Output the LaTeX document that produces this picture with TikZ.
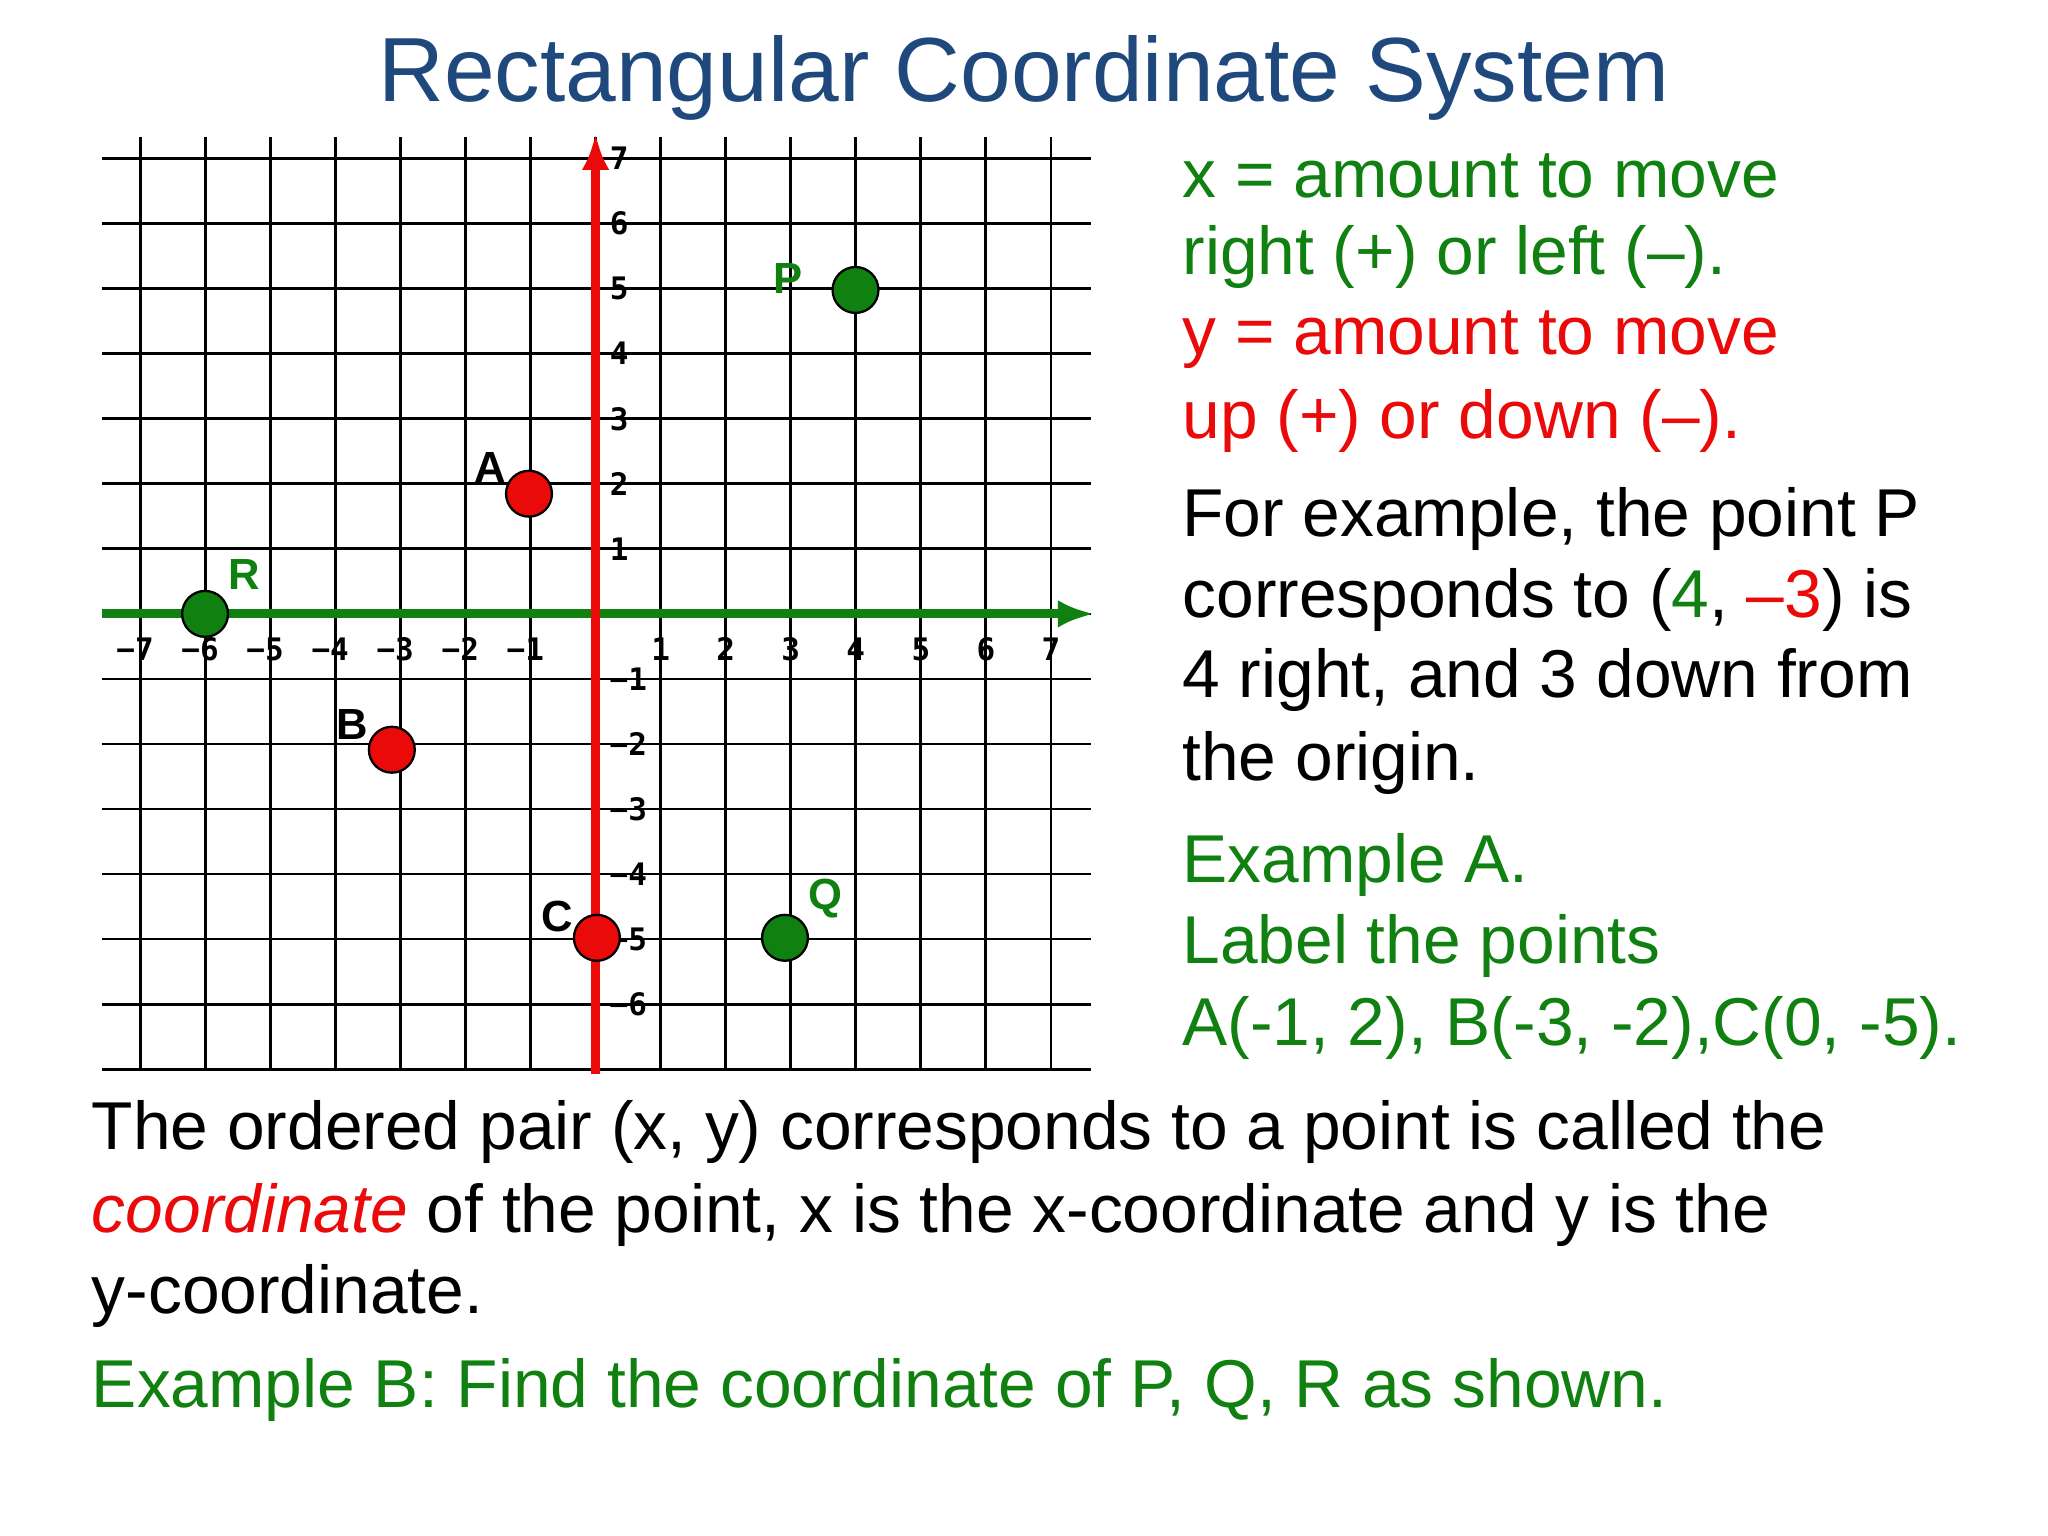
\documentclass[tikz,border=0pt]{standalone}
\usepackage{fontspec}
\usetikzlibrary{arrows.meta}
\setmainfont{Liberation Sans}
\newfontfamily\axfont{DejaVu Sans Mono}
\definecolor{gr}{RGB}{16,128,16}
\definecolor{rd}{RGB}{235,10,10}
\definecolor{tb}{RGB}{31,73,125}
\begin{document}
\begin{tikzpicture}[x=0.02cm,y=-0.02cm,
  txt/.style={anchor=west,font=\fontsize{29.5}{32}\selectfont,inner sep=0},
  tk/.style={font=\axfont\bfseries\fontsize{13.5}{13.5}\selectfont,inner sep=0},
  pl/.style={font=\bfseries\fontsize{19}{19}\selectfont,inner sep=0},
  gdot/.style={circle,draw=black,fill=gr,minimum size=20,inner sep=0,line width=1pt},
  rdot/.style={circle,draw=black,fill=rd,minimum size=20,inner sep=0,line width=1pt}]
\useasboundingbox (0,0) rectangle (1568,1176);
\fill[white] (0,0) rectangle (1568,1176);
% grid
\foreach \i in {-7,...,7}{\draw[line width=1.2pt] ({456+49.8*\i},105) -- ({456+49.8*\i},818);}
\foreach \j in {-7,...,7}{\draw[line width=1.2pt] (78,{470-49.8*\j}) -- (835,{470-49.8*\j});}
\coordinate (xl) at (78,470); \coordinate (xr) at (838,470);
\coordinate (yb) at (456,822); \coordinate (yt) at (456,102);
\draw[gr,line width=4pt,-{Latex[length=16pt,width=12pt]}] (xl) -- (xr);
\draw[rd,line width=4pt,-{Latex[length=16pt,width=12pt]}] (yb) -- (yt);
\foreach \i in {-7,...,-1}{\node[tk] at ({456+49.8*\i-4},497) {−\the\numexpr-\i\relax};}
\foreach \i in {1,...,7}{\node[tk] at ({456+49.8*\i},497) {\i};}
\foreach \j in {1,...,7}{\node[tk] at (474,{470-49.8*\j}) {\j};}
\foreach \j in {-6,...,-1}{\node[tk] at (481,{470-49.8*\j}) {−\the\numexpr-\j\relax};}
% points
\node[gdot] (P) at (655,222) {}; \node[pl,gr] (Pl) at (603,213) {P};
\node[gdot] (Q) at (601,718) {}; \node[pl,gr] (Ql) at (632,688) {Q};
\node[gdot] (R) at (157,470) {}; \node[pl,gr] (Rl) at (187,440) {R};
\node[rdot] (A) at (405,378) {}; \node[pl] (Al) at (375,358) {A};
\node[rdot] (B) at (300,574) {}; \node[pl] (Bl) at (270,555) {B};
\node[rdot] (C) at (457,718) {}; \node[pl] (Cl) at (427,702) {C};
% title
\node[tb,font=\fontsize{39.7}{42}\selectfont] (T) at (784,60) {Rectangular Coordinate System};
% right text
\node[txt,gr] (r1) at (905,135) {x = amount to move};
\node[txt,gr] (r2) at (905,197) {right (+) or left (–).};
\node[txt,rd] (r3) at (905,260) {y = amount to move};
\node[txt,rd] (r4) at (905,322) {up (+) or down (–).};
\node[txt] (r5) at (905,397) {For example, the point P};
\node[txt] (r6) at (905,459) {corresponds to (\textcolor{gr}{4}, \textcolor{rd}{–3}) is};
\node[txt] (r7) at (905,521) {4 right, and 3 down from};
\node[txt] (r8) at (905,584) {the origin.};
\node[txt,gr] (r9) at (905,662) {Example A.};
\node[txt,gr] (r10) at (905,724) {Label the points};
\node[txt,gr] (r11) at (905,787) {A(-1, 2), B(-3, -2),C(0, -5).};
% bottom
\node[txt] (b1) at (70,867) {The ordered pair (x, y) corresponds to a point is called the};
\node[txt] (b2) at (70,930) {\textcolor{rd}{\itshape coordinate} of the point, x is the x-coordinate and y is the};
\node[txt] (b3) at (70,992) {y-coordinate.};
\node[txt,gr] (b4) at (70,1064) {Example B: Find the coordinate of P, Q, R as shown.};
\end{tikzpicture}
\end{document}
